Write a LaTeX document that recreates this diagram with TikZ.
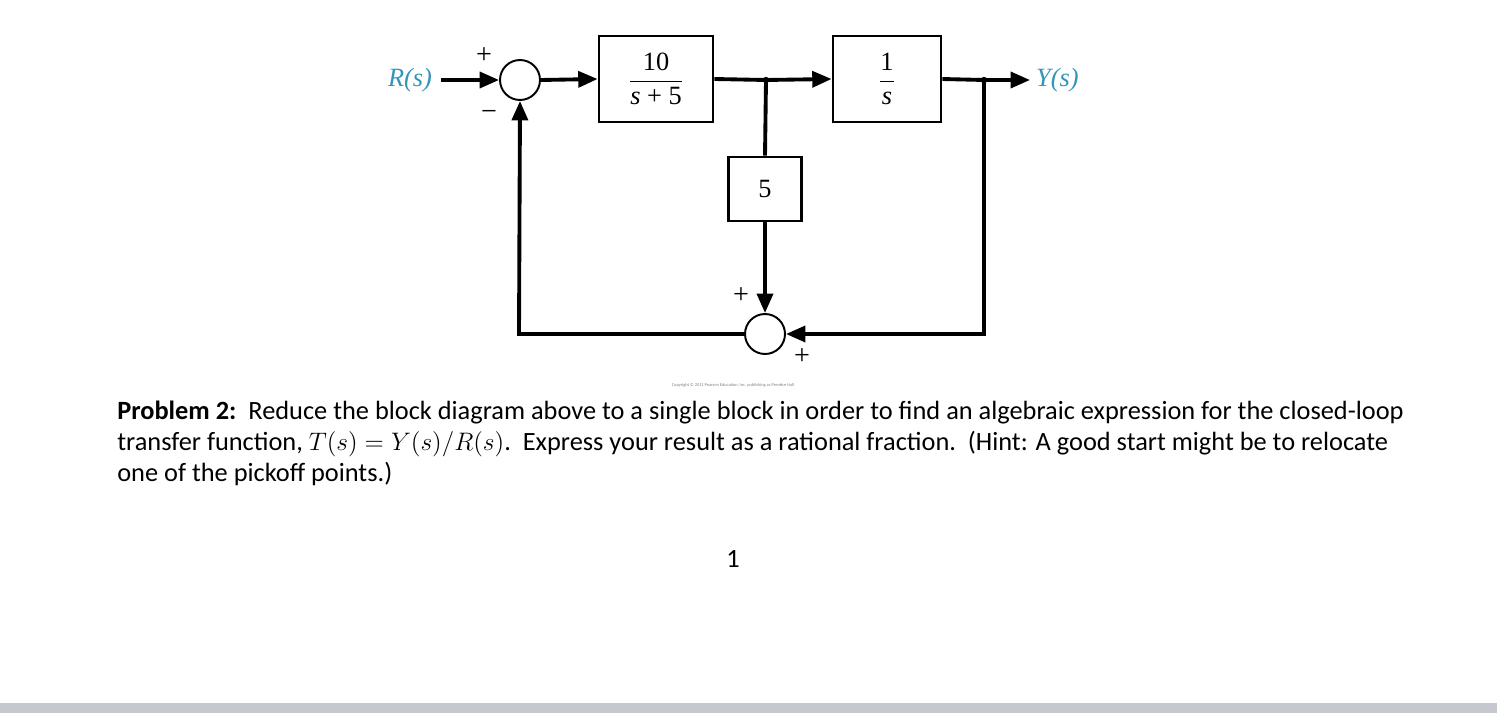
\documentclass[tikz,border=0pt]{standalone}
\usepackage{amsmath}
\usepackage{fontspec}
\setmainfont{Carlito}
\newfontfamily\diag{Liberation Serif}
\usetikzlibrary{arrows.meta}
\definecolor{teal2}{RGB}{50,150,185}
\definecolor{band}{RGB}{198,200,208}
\newcommand{\dv}[1]{\hbox{\diag\fontsize{15}{16}\selectfont #1}}
\begin{document}
\begin{tikzpicture}[x=0.02cm,y=-0.02cm,
  blk/.style={draw,line width=1.6pt,inner sep=0pt,font=\diag\fontsize{15}{16}\selectfont},
  sumc/.style={draw,circle,line width=1.1pt,minimum size=0.8cm,inner sep=0pt},
  sig/.style={line width=2.2pt,-{Triangle[length=11pt,width=9pt]}},
  wire/.style={line width=2.2pt},
  lab/.style={font=\diag\itshape\fontsize{15}{16}\selectfont,text=teal2},
  sgn/.style={font=\diag\fontsize{16}{17}\selectfont},
  txt/.style={anchor=base west,inner sep=0pt,font=\fontsize{15}{17}\selectfont}]
\useasboundingbox (0,0) rectangle (1497,713);
\fill[band] (0,703) rectangle (1497,713);
% nodes
\node[lab] (R) at (410,80) {R(s)};
\node[sumc] (s1) at (520,80) {};
\node[blk,minimum width=2.28cm,minimum height=1.72cm] (g1) at (656,79) {$\dfrac{\dv{10}}{\dv{\textit{s} + 5}}$};
\node[blk,minimum width=2.16cm,minimum height=1.72cm] (g2) at (887,79) {$\dfrac{\dv{1}}{\dv{\textit{s}}}$};
\node[blk,minimum width=1.46cm,minimum height=1.28cm] (h) at (765,189) {5};
\node[sumc] (s2) at (765,334) {};
\coordinate (p1) at (766,80);
\coordinate (p2) at (984,80);
\node[lab,anchor=west] (Y) at (1030,80) {Y(s)};
\coordinate (bl) at (519,334);
\coordinate (br) at (984,334);
\fill (p1) circle (3.2);
\fill (p2) circle (3.2);
% connectors
\draw[sig] (441,80) -- (s1.west);
\draw[sig] (s1.east) -- (g1.west);
\draw[wire] (g1.east) -- (p1);
\draw[sig] (p1) -- (g2.west);
\draw[wire] (g2.east) -- (p2);
\draw[sig] (p2) -- (Y.west);
\draw[wire] (p1) -- (h.north);
\draw[sig] (h.south) -- (s2.north);
\draw[sig] (p2) -- (br) -- (s2.east);
\draw[sig] (s2.west) -- (bl) -- (s1.south);
% signs
\node[sgn] at (484,56) {+};
\node[sgn] at (489,115) {\textminus};
\node[sgn] at (741,296) {+};
\node[sgn] at (802,357) {+};
\node[font=\fontsize{2.5}{3}\selectfont,text=gray] at (733,385) {Copyright \copyright\ 2011 Pearson Education, Inc. publishing as Prentice Hall};
% text
\node[txt] at (117,419) {\textbf{Problem 2:}\ \ Reduce the block diagram above to a single block in order to find an algebraic expression for the closed-loop};
\node[txt] at (117,450) {transfer function, $T(s)=Y(s)/R(s)$.\ \ Express your result as a rational fraction.\ \ (Hint: A good start might be to relocate};
\node[txt] at (117,481) {one of the pickoff points.)};
\node[txt,anchor=base] at (733,567) {1};
\end{tikzpicture}
\end{document}
